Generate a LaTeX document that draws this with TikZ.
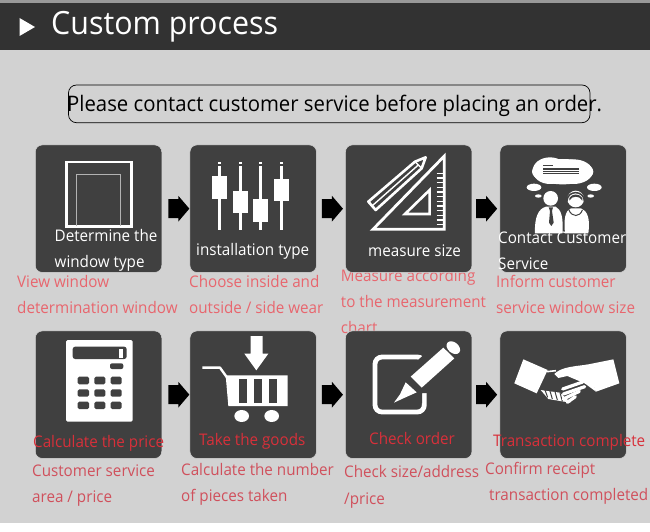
\documentclass[tikz,border=0pt]{standalone}
\usepackage{fontspec}
\setmainfont[FakeStretch=0.95]{Open Sans}
\usetikzlibrary{calc}
\definecolor{bgg}{HTML}{D2D2D2}
\definecolor{hdr}{HTML}{323232}
\definecolor{boxc}{HTML}{404040}
\definecolor{pink}{HTML}{E8666E}
\definecolor{rosec}{HTML}{D0505C}
\definecolor{redc}{HTML}{D8303A}
\tikzset{
  x=1pt,y=-1pt,
  txt/.style={anchor=base west,inner sep=0pt,font=\fontsize{16}{19}\selectfont},
  lab/.style={txt,text=pink},
  lab2/.style={txt,text=rosec},
  wt/.style={txt,text=white},
  rt/.style={txt,text=redc},
  tile/.style={fill=boxc,draw=white!85!black,line width=.5pt,rounded corners=7pt,minimum width=126.5pt,minimum height=127.5pt,inner sep=0pt,anchor=north west},
  zoomin/.style 2 args={shift={(#1,#2)},scale=0.33333},
  whiteline/.style={draw=white,line width=2.8pt},
}
\newcommand{\blockarrowat}[1]{%
  \fill[black] ($(#1)+(-10.5,-9.5)$) -- ($(#1)+(-0.5,-9.5)$) -- ($(#1)+(-0.5,-12.85)$) -- ($(#1)+(10.5,0)$) -- ($(#1)+(-0.5,12.85)$) -- ($(#1)+(-0.5,9.5)$) -- ($(#1)+(-10.5,9.5)$) -- cycle;}
\begin{document}
\begin{tikzpicture}
\useasboundingbox (0,0) rectangle (650,532);
\fill[white] (0,0) rectangle (650,532);
\fill[bgg] (0,0) rectangle (650,523);
\fill[gray!80] (0,0) rectangle (650,3);
\fill[hdr] (0,3) rectangle (650,50);
\fill[white] (19.5,18) -- (35,27) -- (19.5,36) -- cycle;
\node[anchor=base west,inner sep=0pt,text=white,font=\fontsize{32}{37}\selectfont] (title) at (51,35) {Custom process};
\draw[black,line width=.7pt,rounded corners=8pt] (68.5,85) rectangle (590,122.7);
\node[anchor=base west,inner sep=0pt,text=black,font=\fontsize{21.4}{26}\selectfont] (notice) at (67,111.7) {Please contact customer service before placing an order.};
% descriptions (behind the tiles)
\node[lab] (l1a) at (17,287) {View window};
\node[lab] (l1b) at (17,313) {determination window};
\node[lab] (l2a) at (189,287) {Choose inside and};
\node[lab] (l2b) at (189,313) {outside / side wear};
\node[lab] (l3a) at (340.7,281.7) {Measure according};
\node[lab] (l3b) at (340.7,307.7) {to the measurement};
\node[lab] (l3c) at (340.7,333) {chart};
\node[lab] (l4a) at (496,287) {Inform customer};
\node[lab] (l4b) at (496,313) {service window size};
\node[lab2] (l5a) at (32,476.7) {Customer service};
\node[lab2] (l5b) at (32,502.7) {area / price};
\node[lab2] (l6a) at (181,475) {Calculate the number};
\node[lab2] (l6b) at (181,501) {of pieces taken};
\node[lab2] (l7a) at (344,477.7) {Check size/address};
\node[lab2] (l7b) at (344,504) {/price};
\node[lab2] (l8a) at (485,474) {Confirm receipt};
\node[lab2] (l8b) at (489,500) {transaction completed};
% tiles
\node[tile] (b1) at (35,144.7) {};
\node[tile] (b2) at (189.7,144.7) {};
\node[tile] (b3) at (345.2,144.7) {};
\node[tile] (b4) at (499.7,144.7) {};
\node[tile] (b5) at (35,330.7) {};
\node[tile] (b6) at (189.7,330.7) {};
\node[tile] (b7) at (345.2,330.7) {};
\node[tile] (b8) at (499.7,330.7) {};
% block arrows
\coordinate (a1) at ($(b1.east)!.5!(b2.west)+(3,0)$);
\coordinate (a2) at ($(b2.east)!.5!(b3.west)+(1.5,0)$);
\coordinate (a3) at ($(b3.east)!.5!(b4.west)+(.7,0)$);
\coordinate (a5) at ($(b5.east)!.5!(b6.west)+(3,0)$);
\coordinate (a6) at ($(b6.east)!.5!(b7.west)+(1.5,0)$);
\coordinate (a7) at ($(b7.east)!.5!(b8.west)+(.7,0)$);
\blockarrowat{a1}\blockarrowat{a2}\blockarrowat{a3}\blockarrowat{a5}\blockarrowat{a6}\blockarrowat{a7}
% icon 1: window
\draw[white,line width=2.4pt] (66.5,162) rectangle (131.3,226.5);
\draw[white!70!black,line width=1pt] (76.7,226) -- (76.7,174) -- (120.7,174) -- (120.7,226);
% icon 2: sliders
\foreach \xx/\ya/\yb in {219.3/176/198.7,240/190.7/212.7,260.7/199/221.7,281.3/179/201.3}{
  \fill[white] (\xx-1.5,166) rectangle (\xx+1.5,230);
  \fill[white] (\xx-1.5,161.5) rectangle (\xx+1.5,164);
  \fill[white] (\xx-7.5,\ya) rectangle (\xx+7.5,\yb);
}
% icon 3: set square and pencil
\begin{scope}[zoomin={360}{150}]
  \draw[whiteline,line join=miter] (253,18) -- (253,238) -- (39,238) -- cycle;
  \draw[whiteline,line width=2.6pt] (209,120) -- (209,192) -- (135,192) -- cycle;
  \foreach \yy in {70,84,...,224}{\draw[white,line width=1.4pt] (230,\yy) -- (253,\yy);}
  \draw[whiteline,line width=2.6pt,line join=round] (25,155) -- (165,35) -- (197,22) -- (185,55) -- (47,180) -- cycle;
  \draw[white,line width=1.4pt] (37,167) -- (175,45) (165,35) -- (185,55);
\end{scope}
% icon 4: speech bubbles and two people
\begin{scope}[zoomin={325}{130}]
  \fill[white] (713,125) ellipse [x radius=92,y radius=38];
  \fill[white] (675,122) ellipse [x radius=52,y radius=40];
  \fill[white] (745,125) ellipse [x radius=58,y radius=37];
  \fill[white] (627,172) ellipse [x radius=22,y radius=11];
  \fill[white] (808,172) ellipse [x radius=22,y radius=11];
  \fill[white] (640,198) ellipse [x radius=10,y radius=5];
  \fill[white] (797,198) ellipse [x radius=10,y radius=5];
  \draw[boxc,line width=1pt] (655,107) -- (685,107) (655,117) -- (763,117) (655,124) -- (763,124) (655,131) -- (763,131);
  \fill[white] (677,205) circle (22);
  \fill[white] (630,310) .. controls (628,262) and (640,236) .. (663,230) -- (692,230) .. controls (708,238) and (716,262) .. (712,310) -- cycle;
  \fill[boxc] (671,232) -- (684,232) -- (681,243) -- (686,278) -- (679,288) -- (672,278) -- (675,243) -- cycle;
  \fill[white] (752,207) circle (25);
  \draw[boxc,line width=1.5pt] (726,212) .. controls (728,180) and (776,180) .. (778,212);
  \fill[boxc] (733,212) .. controls (740,196) and (765,196) .. (772,212) -- (772,204) .. controls (762,190) and (742,190) .. (733,204) -- cycle;
  \fill[white] (720,310) .. controls (716,268) and (720,242) .. (738,235) -- (768,235) .. controls (788,242) and (796,268) .. (790,310) -- cycle;
  \draw[boxc,line width=1pt] (732,240) .. controls (740,262) and (765,262) .. (772,240);
\end{scope}
% icon 5: calculator
\begin{scope}[zoomin={0}{325}]
  \fill[white,rounded corners=1.5pt] (198,45) rectangle (398,290);
  \fill[boxc,rounded corners=2.5pt] (218,65) rectangle (380,102);
  \fill[white] (358,72) rectangle (368,98);
  \fill[boxc,rounded corners=2pt] (330,115) rectangle (370,132);
  \foreach \xa/\xb in {233/267,283/316,332/365}{
    \foreach \ya/\yb in {155/178,193/215,230/252}{
      \fill[boxc,rounded corners=1.5pt] (\xa,\ya) rectangle (\xb,\yb);
    }
  }
\end{scope}
% icon 6: cart
\begin{scope}[zoomin={195}{332}]
  \fill[white] (167,12) -- (203,12) -- (203,65) -- (220,65) -- (184,115) -- (148,65) -- (167,65) -- cycle;
  \draw[white,line width=2.4pt,line join=round] (22,107) -- (75,107) -- (100,142);
  \fill[white] (92,130) -- (278,130) -- (278,222) -- (100,222) -- cycle;
  \foreach \xa/\xb in {132/155,178/200,222/245}{\fill[boxc] (\xa,142) rectangle (\xb,212);}
  \fill[white] (140,252) ellipse [x radius=22,y radius=18];
  \fill[white] (230,252) ellipse [x radius=22,y radius=18];
\end{scope}
% icon 7: pen and square
\begin{scope}[zoomin={365}{335}]
  \draw[white,line width=4.8pt,rounded corners=7pt] (30,66) rectangle (178,231);
  \fill[boxc] (110,120) -- (230,10) -- (300,70) -- (186,174) -- (171,174) -- (171,205) -- (70,215) -- cycle;
  \fill[white] (137,125) -- (235,38) -- (268,70) -- (170,158) -- cycle;
  \fill[white] (87,203) -- (105,178) -- (122,142) -- (155,172) -- (115,190) -- cycle;
  \fill[white,rotate around={-40:(265,38)}] (265,38) ellipse [x radius=23,y radius=16];
\end{scope}
% icon 8: handshake
\begin{scope}[zoomin={510}{350}]
  \fill[white] (40,28) -- (113,60) -- (80,130) -- (13,100) -- cycle;
  \fill[white] (225,45) -- (310,28) -- (328,100) -- (258,125) -- cycle;
  \draw[white,line width=1.6pt] (110,65) -- (138,62);
  \fill[white] (133,72) .. controls (150,55) and (175,50) .. (232,44) -- (258,125) -- (224,100) -- (172,78) -- (145,84) -- cycle;
  \fill[white] (92,120) -- (112,123) -- (150,128) -- (182,158) -- (150,153) -- (115,147) -- cycle;
  \draw[boxc,line width=1pt] (105,120) -- (113,142) (120,123) -- (127,147) (135,125) -- (142,150) (150,128) -- (157,154);
  \foreach \xa/\ya/\xb/\yb in {158/117/218/96,160/132/224/110,160/147/208/124,172/157/196/140}{
    \draw[white,line width=3.2pt,line cap=round] (\xa,\ya) -- (\xb,\yb);
  }
\end{scope}
% titles in the tiles
\node[wt] (t1a) at (54.5,241.7) {Determine the};
\node[wt] (t1b) at (54.5,267.7) {window type};
\node[wt] (t2) at (196,255) {installation type};
\node[wt] (t3) at (368,256.7) {measure size};
\node[wt] (t4a) at (498,243) {Contact Customer};
\node[wt] (t4b) at (498,269) {Service};
\node[rt] (t5) at (33,447.7) {Calculate the price};
\node[rt] (t6) at (199,445) {Take the goods};
\node[rt] (t7) at (369,444) {Check order};
\node[rt] (t8) at (493,446.7) {Transaction complete};
\end{tikzpicture}
\end{document}
